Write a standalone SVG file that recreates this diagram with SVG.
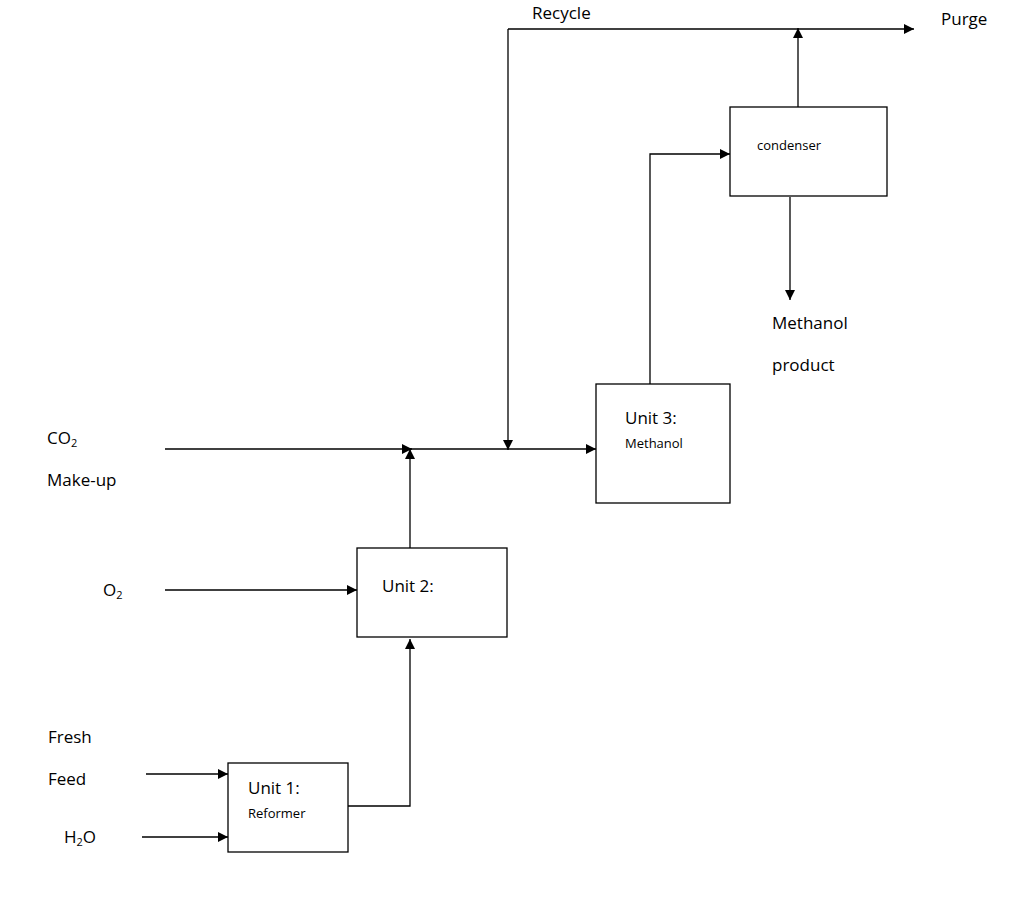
<svg xmlns="http://www.w3.org/2000/svg" width="1024" height="908" viewBox="0 0 1024 908">
<style>
.b{fill:#fff;stroke:#000;stroke-width:1.3}
.c{fill:none;stroke:#000;stroke-width:1.3;marker-end:url(#a)}
.l{fill:none;stroke:#000;stroke-width:1.3}
text{font-family:"Open Sans","Liberation Sans",sans-serif;font-size:17px;fill:#000}
.s{font-size:13px}
</style>
<defs><marker id="a" viewBox="0 0 10 10" refX="10" refY="5" markerWidth="10" markerHeight="10" markerUnits="userSpaceOnUse" orient="auto"><path d="M0,0L10,5L0,10z"/></marker></defs>
<rect width="1024" height="908" fill="#fff"/>
<g id="connectors">
<path class="c" d="M146,774H228"/>
<path class="c" d="M142,837H228"/>
<path class="c" d="M348,806H410V639"/>
<path class="c" d="M165,590H357"/>
<path class="c" d="M410,548V449"/>
<path class="c" d="M165,449H412"/>
<path class="l" d="M410,449H508"/>
<path class="c" d="M508,449H596"/>
<path class="c" d="M508,29V450"/>
<path class="c" d="M508,29H914"/>
<path class="c" d="M798,107V28"/>
<path class="c" d="M650,384V154H730"/>
<path class="c" d="M790,197V300"/>
</g>
<g id="unit1"><rect class="b" x="228" y="763" width="120" height="89"/><text x="248" y="794">Unit 1:</text><text class="s" x="248" y="818">Reformer</text></g>
<g id="unit2"><rect class="b" x="357" y="548" width="150" height="89"/><text x="382" y="592">Unit 2:</text></g>
<g id="unit3"><rect class="b" x="596" y="384" width="134" height="119"/><text x="625" y="424">Unit 3:</text><text class="s" x="625" y="448">Methanol</text></g>
<g id="condenser"><rect class="b" x="730" y="107" width="157" height="89"/><text class="s" x="757" y="150">condenser</text></g>
<g id="labels">
<text x="532" y="19">Recycle</text>
<text x="941" y="25">Purge</text>
<text x="772" y="329">Methanol</text>
<text x="772" y="371">product</text>
<text x="47" y="444">CO<tspan font-size="11" dy="3">2</tspan></text>
<text x="47" y="486">Make-up</text>
<text x="103" y="596">O<tspan font-size="11" dy="3">2</tspan></text>
<text x="48" y="743">Fresh</text>
<text x="48" y="785">Feed</text>
<text x="64" y="843">H<tspan font-size="11" dy="3">2</tspan><tspan dy="-3">O</tspan></text>
</g>
</svg>
